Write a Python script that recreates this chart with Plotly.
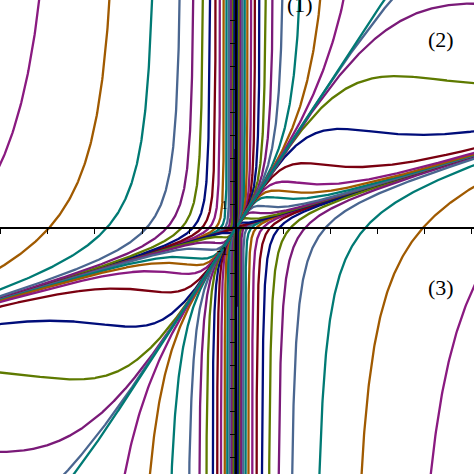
import numpy as np
import plotly.graph_objects as go

# dy/dx = F(y/x), homogeneous ODE; v=y/x goes between slopes a and b
a_slope = 0.62
b_slope = 3.2
m_exp = 3.0

# curves with vertical asymptote at x0 (regions (1) and (3))
x0_list = [0.02, 0.04, 0.07, 0.1, 0.14, 0.19, 0.25, 0.33, 0.42, 0.53, 0.67,
           0.85, 1.1, 1.59, 2.3, 3.4]
# curves between the two lines (region (2)), scale factor
s_list = [0.05, 0.12, 0.22, 0.35, 0.5, 0.7, 0.85, 1.05, 1.47, 2.25, 3.45, 5.1, 7.5, 11.0]

colors = ["#7a0010", "#000d7a", "#5e7a00", "#7a1a78", "#4a6690", "#007a74",
          "#a05a00", "#8a1a80"]

x_range = [-5.02, 5.06]
y_range = [-10.7, 9.9]

fig = go.Figure()


def add_curve(xs, ys, col):
    ys = np.where(np.abs(ys) > 40, np.nan, ys)
    for sgn in (1, -1):
        fig.add_trace(go.Scatter(x=sgn * xs, y=sgn * ys, mode="lines",
                                 line=dict(color=col, width=2.3),
                                 hoverinfo="skip", showlegend=False))


i = 0
for x0 in x0_list:
    C = x0 ** (-m_exp)
    # left branch (region 1) and right branch (region 3)
    xl = x0 * (1 - np.geomspace(1e-4, 1, 600))[::-1]
    xl = xl[xl > 0]
    xr = x0 + np.geomspace(1e-4, 6, 800)
    xr = xr[xr < 5.2]
    for xs in (xl, xr):
        u = C * xs ** m_exp
        v = (b_slope - a_slope * u) / (1 - u)
        add_curve(xs, xs * v, colors[i % len(colors)])
    i += 1

for s in s_list:
    xs = np.linspace(1e-4, 5.2, 1500)
    u = -(xs / s) ** m_exp
    v = (b_slope - a_slope * u) / (1 - u)
    add_curve(xs, xs * v, colors[i % len(colors)])
    i += 1

fig.update_layout(
    width=474, height=474, margin=dict(l=0, r=0, t=0, b=0, autoexpand=False),
    plot_bgcolor="white", paper_bgcolor="white",
    font=dict(family="Liberation Serif", color="black"),
    xaxis=dict(range=x_range, showgrid=False, zeroline=False,
               showline=True, linecolor="black", linewidth=1.5,
               anchor="free", position=(0 - y_range[0]) / (y_range[1] - y_range[0]),
               ticks="outside", ticklen=5, tickcolor="black", dtick=1,
               showticklabels=False),
    yaxis=dict(range=y_range, showgrid=False, zeroline=False,
               showline=True, linecolor="black", linewidth=1.5,
               anchor="free", position=(0 - x_range[0]) / (x_range[1] - x_range[0]),
               ticks="outside", ticklen=5, tickcolor="black",
               tickvals=list(range(-10, 10)),
               ticktext=["-1" if t == -1 else ("1" if t == 1 else "") for t in range(-10, 10)],
               tickfont=dict(size=13)),
)

for txt, xx, yy in [("(1)", 1.35, 9.7), ("(2)", 4.35, 8.2), ("(3)", 4.35, -2.6)]:
    fig.add_annotation(x=xx, y=yy, text=txt, showarrow=False,
                       font=dict(size=22, family="Liberation Serif"))

fig.write_html("out.html", config={"displayModeBar": False},
               post_script="document.body.style.margin='0';")
